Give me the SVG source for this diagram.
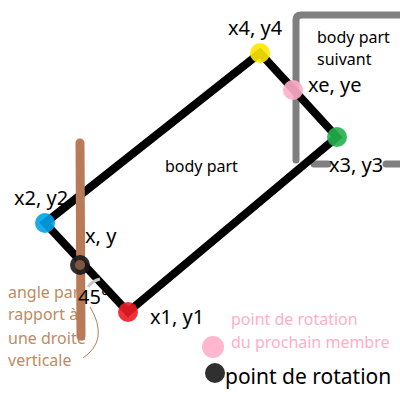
<svg xmlns="http://www.w3.org/2000/svg" width="400" height="400" viewBox="0 0 400 400">
<style>
text{font-family:"Noto Sans","Open Sans","DejaVu Sans",sans-serif}
.lbl{font-size:20px;fill:#000}
.sm{font-size:16px;fill:#000}
.br{font-size:16px;fill:#c08a62}
.pk{font-size:16px;fill:#ffaec9}
.blk{stroke:#000;stroke-width:8;stroke-linecap:butt;fill:none}
.gry{stroke:#7f7f7f;stroke-width:7;stroke-linecap:round;fill:none}
.dot{opacity:0.9}
</style>
<rect width="400" height="400" fill="#fff"/>
<g id="next-part">
<path class="gry" d="M296,160 L296,20 Q296,15 301,15 L400,15"/>
<path class="gry" d="M314,164 L328,164"/>
<path class="gry" d="M386,164 L402,164"/>
<text class="sm" x="317" y="43">body part</text>
<text class="sm" x="317" y="65">suivant</text>
</g>
<g id="connectors">
<path class="blk" d="M45,223 L260,53 L337,137 L128,312 Z"/>
</g>
<g id="labels">
<text class="sm" x="165" y="172">body part</text>
<text class="lbl" x="228" y="35">x4, y4</text>
<text class="lbl" x="308" y="92">xe, ye</text>
<text class="lbl" x="329" y="172">x3, y3</text>
<text class="lbl" x="14" y="205">x2, y2</text>
<text class="lbl" x="85" y="243">x, y</text>
<text class="lbl" x="150" y="324">x1, y1</text>
<text class="br" x="8" y="298">angle par</text>
<text class="br" x="8" y="320">rapport à</text>
<text class="br" x="8" y="344">une droite</text>
<text class="br" x="8" y="366">verticale</text>
<text class="pk" x="231" y="325">point de rotation</text>
<text class="pk" x="231" y="348">du prochain membre</text>
<text x="225" y="384" style="font-size:21px;fill:#000">point de rotation</text>
</g>
<g id="angle">
<line x1="80" y1="143" x2="81" y2="336" stroke="#b97a57" stroke-width="9" stroke-linecap="round"/>
<path d="M88,287 Q92,281 100,279" stroke="#c8c8c8" stroke-width="3" fill="none"/>
<text class="lbl" x="78" y="304">45°</text>
<path d="M90,307 Q100,323 98,337 Q96,349 83,358" stroke="#b97a57" stroke-width="1" fill="none"/>
</g>
<g id="points">
<circle class="dot" cx="45" cy="223" r="10" fill="#00a2e8"/>
<circle class="dot" cx="80" cy="265" r="10" fill="#1a1a1a"/>
<circle cx="80" cy="265" r="5" fill="#b97a57" opacity="0.6"/>
<circle class="dot" cx="128" cy="312" r="10" fill="#ed1c24"/>
<circle class="dot" cx="260" cy="53" r="10" fill="#ffe800"/>
<circle class="dot" cx="293" cy="90" r="10" fill="#ffaec9"/>
<circle class="dot" cx="337" cy="137" r="10" fill="#22b14c"/>
<circle class="dot" cx="213" cy="347" r="11" fill="#ffaec9"/>
<circle class="dot" cx="215" cy="373" r="10" fill="#1a1a1a"/>
</g>
</svg>
